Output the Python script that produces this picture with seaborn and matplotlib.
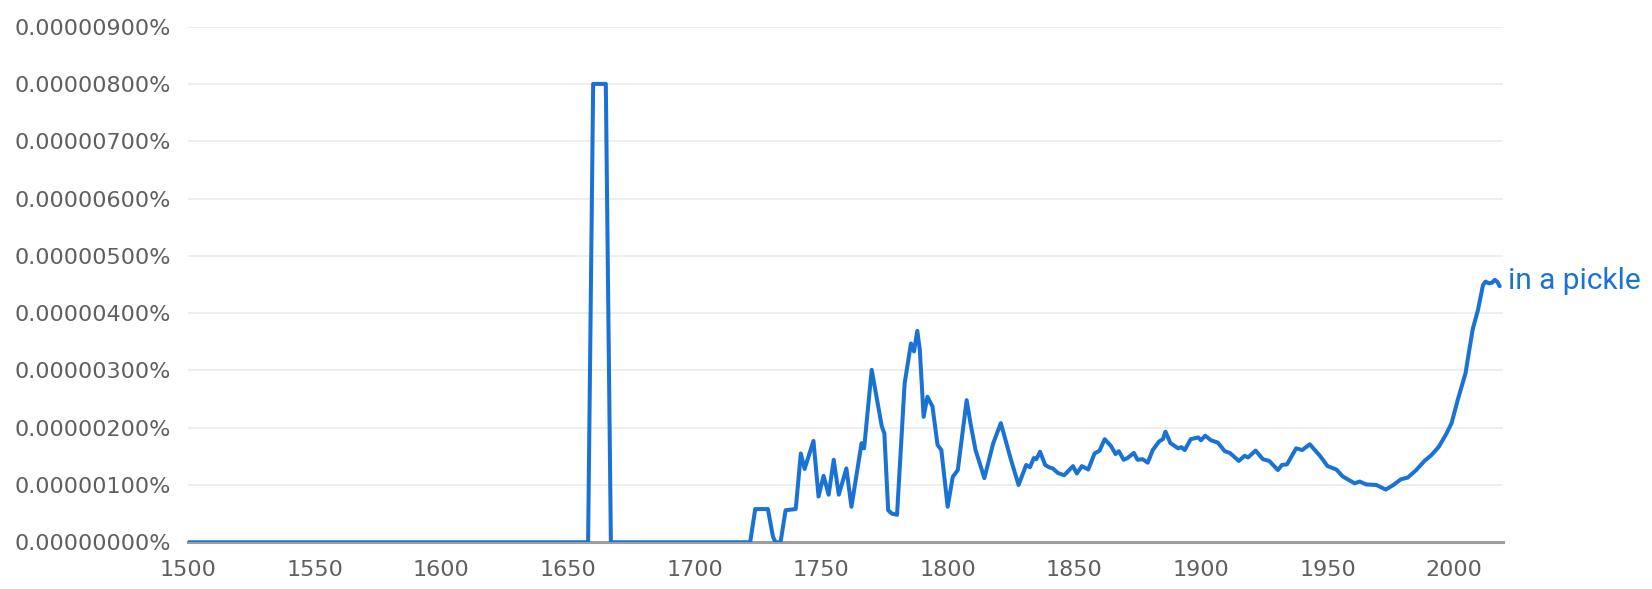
import numpy as np
import matplotlib
matplotlib.use("Agg")
import matplotlib.pyplot as plt
import seaborn as sns
from matplotlib.ticker import FuncFormatter, MultipleLocator

# frequency of "in a pickle", in millionths of a percent
years = [1500, 1658, 1660, 1665, 1667, 1722, 1724, 1729, 1731, 1732, 1734, 1736, 1740,
         1742, 1743.5, 1747, 1749, 1751, 1753, 1755, 1757, 1760, 1762, 1766, 1767,
         1770, 1774, 1775, 1776.5, 1778, 1780, 1783, 1785.5, 1786.7, 1788, 1789, 1790.5,
         1792, 1794, 1796, 1797.5, 1800, 1802, 1804, 1807.5, 1809, 1811, 1814.5, 1818,
         1821, 1825, 1828, 1831, 1832.5, 1834, 1835, 1836.5, 1838.5, 1840, 1841.5,
         1843.5, 1846, 1849.5, 1851, 1853, 1855.5, 1858, 1860, 1862, 1864.5, 1866.3,
         1867.6, 1869.5, 1871, 1873.5, 1875, 1877, 1879, 1881, 1883.5, 1885, 1886,
         1888, 1891, 1892.3, 1893.6, 1896, 1899, 1900, 1901.7, 1904, 1906.7, 1909.4,
         1911.4, 1915, 1917.3, 1918.6, 1921.6, 1924.5, 1927, 1930.4, 1932, 1934,
         1937.6, 1940, 1943, 1947, 1950, 1953.5, 1956, 1960.7, 1962.7, 1965.3, 1969.3,
         1973, 1976, 1979, 1981.7, 1985, 1988.3, 1991, 1994, 1997, 1999, 2001.4,
         2004.5, 2006, 2007.4, 2009.4, 2011.4, 2012.4, 2013.7, 2015, 2016, 2017, 2018]
freq_e6 = [0, 0, 8.0, 8.0, 0, 0, 0.58, 0.58, 0.1, 0, 0, 0.56, 0.58,
           1.55, 1.28, 1.77, 0.80, 1.16, 0.83, 1.44, 0.83, 1.29, 0.62, 1.73, 1.64,
           3.01, 2.02, 1.90, 0.56, 0.50, 0.48, 2.77, 3.47, 3.33, 3.69, 3.36, 2.19,
           2.54, 2.37, 1.70, 1.61, 0.62, 1.14, 1.26, 2.48, 2.08, 1.61, 1.12, 1.73,
           2.08, 1.44, 1.00, 1.35, 1.31, 1.47, 1.45, 1.58, 1.35, 1.31, 1.29,
           1.21, 1.17, 1.33, 1.20, 1.33, 1.27, 1.55, 1.60, 1.80, 1.68, 1.54,
           1.59, 1.44, 1.47, 1.56, 1.44, 1.45, 1.39, 1.61, 1.76, 1.80, 1.93,
           1.73, 1.64, 1.66, 1.61, 1.80, 1.83, 1.78, 1.86, 1.78, 1.74, 1.59,
           1.56, 1.42, 1.51, 1.48, 1.60, 1.45, 1.42, 1.26, 1.35, 1.36,
           1.64, 1.61, 1.71, 1.51, 1.33, 1.27, 1.15, 1.03, 1.06, 1.01, 1.00,
           0.92, 1.00, 1.10, 1.13, 1.26, 1.42, 1.52, 1.67, 1.90, 2.08, 2.48,
           2.95, 3.36, 3.73, 4.05, 4.49, 4.55, 4.52, 4.53, 4.58, 4.55, 4.47]
label = "in a pickle"
x_ticks = [1500, 1550, 1600, 1650, 1700, 1750, 1800, 1850, 1900, 1950, 2000]

blue = "#1a73d4"
grey_text = "#5f5f5f"
grey_axis = "#9e9e9e"

sns.set_style("white")
plt.rcParams["font.family"] = ["DejaVu Sans"]

fig = plt.figure(figsize=(16.52, 5.89), dpi=100)
ax = fig.add_axes([0.1138, 0.0793, 0.796, 0.8755])

pct = np.array(freq_e6) * 1e-6
sns.lineplot(x=years, y=pct, ax=ax, color=blue, linewidth=2.9,
             solid_joinstyle="round", solid_capstyle="round")

ax.set_xlim(1500, 2019.3)
ax.set_ylim(0, 9e-6)
ax.set_xticks(x_ticks)
ax.yaxis.set_major_locator(MultipleLocator(1e-6))
ax.yaxis.set_major_formatter(FuncFormatter(lambda v, p: f"{v:.8f}%"))

ax.grid(axis="y", color="#eeeeee", linewidth=1.4)
ax.set_axisbelow(True)
for side in ["top", "right", "left"]:
    ax.spines[side].set_visible(False)
ax.spines["bottom"].set_color(grey_axis)
ax.spines["bottom"].set_linewidth(2.2)
ax.spines["bottom"].set_zorder(1)

ax.tick_params(axis="both", colors=grey_axis, width=2.2, length=8.5,
               labelsize=16, labelcolor=grey_text, pad=4)

ax.annotate(label, xy=(years[-1], pct[-1]), xytext=(6, 4), textcoords="offset points",
            color=blue, fontsize=21.5, fontfamily="Roboto", va="center", ha="left",
            annotation_clip=False)

fig.savefig("out.png", dpi=100)
